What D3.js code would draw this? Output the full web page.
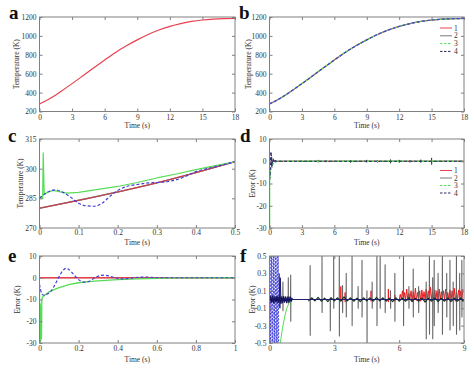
<!DOCTYPE html>
<html><head><meta charset="utf-8">
<script src="https://cdn.jsdelivr.net/npm/d3@7"></script>
<style>body{margin:0;background:#fff}svg{display:block}text{font-family:"Liberation Serif","Times New Roman",serif}</style>
</head><body><svg id="fig" width="474" height="370"></svg>
<script>
// ---------- DATA ----------
const seriesNames = ["1","2","3","4"];
// panel a/b: temperature trajectory (K) vs time (s)
const aTime = [0,1,2,3,4,5,6,7,8,9,10,11,12,13,14,15,16,17,18];
const aTemp = [280,340,415,495,578,662,745,825,895,958,1015,1062,1100,1130,1153,1168,1177,1182,1184];
// panel c: zoom 0-0.5 s
const cRedT = [0,0.1,0.2,0.3,0.4,0.5];
const cRed  = [280,284,288.2,292.8,298,303.5];
const cGreenT = [0,0.004,0.008,0.0095,0.0105,0.012,0.02,0.035,0.05,0.07,0.1,0.15,0.2,0.25,0.3,0.35,0.4,0.45,0.5];
const cGreen  = [284.5,286,284.8,308,300,287,288,289,288.4,287.6,288,289.5,291,293,295.3,297.3,299.5,301.5,303.5];
const cBlueT = [0,0.02,0.04,0.06,0.08,0.10,0.12,0.14,0.16,0.18,0.20,0.22,0.25,0.28,0.30,0.33,0.36,0.40,0.45,0.50];
const cBlue  = [285,288,289.3,288,285.5,282.5,281.2,281,282.5,286,289,290.8,292,292.8,293,293.5,295,298.5,301,303.5];
// panel d/e: errors (K)
const eGreenT = [0,0.002,0.004,0.006,0.008,0.010,0.012,0.015,0.02,0.035,0.05,0.075,0.1,0.15,0.2,0.25,0.3,0.4,0.5,0.6,0.7,0.8,1.0];
const eGreen  = [-5,-30,-12,-29,-14,-28,-10,-9,-8.5,-7.5,-6.5,-5.5,-4.5,-3.2,-2.3,-1.8,-1.4,-0.9,-0.5,-0.25,-0.1,-0.05,0];
const eBlueT = [0,0.01,0.02,0.04,0.06,0.08,0.10,0.12,0.135,0.15,0.17,0.19,0.21,0.23,0.25,0.28,0.31,0.33,0.36,0.39,0.42,0.46,0.5,0.55,0.6,0.7,1.0];
const eBlue  = [-3,-7,-8,-7.5,-6,-3,0.5,3.3,4.3,3.8,2,0,-1.5,-2,-1.8,-0.2,1,1.2,0.7,-0.1,-0.5,-0.3,0.2,0.3,0,0,0];
// panel d: small spikes of series 2 [time, high, low]
const dSpikes = [[0.2,2,-3],[4.5,0.6,-0.5],[5.2,0.5,-0.4],[7.5,0.5,-0.6],[9.0,0.6,-0.5],[10.0,0.4,-0.5],[11.2,0.8,-0.9],[12.0,0.6,-0.6],[13.0,0.5,-0.5],[14.0,0.7,-0.6],[15.0,1.5,-1.5]];
// panel f: fine error detail
const fBlueHatchT = [0,0.05,0.10,0.15,0.20,0.25,0.30,0.35,0.40,0.43];
const fBlueHatchV = [0.65,-0.65,0.65,-0.65,0.65,-0.65,0.65,-0.65,0.65,-0.65];
const fBlueHatch2T = [0.02,0.07,0.12,0.17,0.22,0.27,0.32,0.37,0.42];
const fBlueHatch2V = [-0.65,0.65,-0.65,0.65,-0.65,0.65,-0.65,0.65,-0.65];
const fBlueTailT = [0.45,0.48,0.50,0.53,0.56,0.60,9];
const fBlueTailV = [0.3,-0.1,0.25,-0.05,0.02,0,0];
const fNavyBand = [[0,-0.035,0.035],[0.1,-0.03,0.04],[0.2,-0.04,0.03],[0.3,-0.03,0.035],[0.4,-0.035,0.04],[0.5,-0.03,0.03],[0.6,-0.035,0.035],[0.7,-0.03,0.03],[0.8,-0.035,0.03],[0.9,-0.03,0.03],[1.0,-0.02,0.02]];
const fDarkBand = [[1.8,-0.02,0.02],[2.1,-0.015,0.025],[2.4,-0.02,0.015],[2.7,-0.025,0.02],[3.0,-0.015,0.02],[3.3,-0.02,0.03],[3.6,-0.015,0.02],[3.9,-0.02,0.015],[4.2,-0.025,0.02],[4.5,-0.015,0.02],[4.8,-0.02,0.025],[5.1,-0.015,0.02],[5.4,-0.02,0.015],[5.7,-0.025,0.02],[6.0,-0.02,0.015],[6.3,-0.02,0.02],[6.6,-0.025,0.015],[6.9,-0.02,0.02],[7.2,-0.03,0.015],[7.5,-0.02,0.02],[7.8,-0.025,0.015],[8.1,-0.02,0.02],[8.4,-0.025,0.015],[8.7,-0.02,0.02],[8.95,-0.02,0.015]];
const fGreenT = [0,0.45,0.5,0.6,0.7,0.8,0.9,1.0,1.1,9];
const fGreenV = [-5,-0.6,-0.5,-0.33,-0.2,-0.1,-0.04,-0.01,0,0];
const fSpikes = [[0.62,0.2,-0.13],[0.87,0.25,-0.05],[0.98,0.28,-0.25],
 [1.88,0.39,-0.41],[2.43,0.5,-0.15],[2.81,0.02,-0.36],[2.97,0.5,-0.1],
 [3.23,0.5,-0.42],[3.38,0.16,-0.15],[3.55,0.3,-0.2],[3.82,0.5,-0.3],
 [4.1,0.15,-0.1],[4.28,0.45,-0.2],[4.51,0.1,-0.5],[4.75,0.2,-0.1],
 [4.97,0.5,-0.3],[5.12,0.5,-0.1],[5.35,0.4,-0.15],[5.6,0.1,-0.1],[5.8,0.3,-0.25],
 [6.2,0.5,-0.3],[6.45,0.15,-0.1],[6.65,0.35,-0.2],[6.9,0.15,-0.15],
 [7.25,0.2,-0.45],[7.4,0.5,-0.4],[7.55,0.25,-0.45],[7.62,0.45,-0.3],[7.8,0.3,-0.15],
 [8.0,0.5,-0.4],[8.2,0.3,-0.2],[8.35,0.45,-0.35],[8.5,0.2,-0.3],[8.65,0.5,-0.4],[8.8,0.3,-0.35],[8.9,0.45,-0.2]];
const fRedStart = [[0,-0.6],[0.01,-0.2],[0.02,0],[1.5,0]];
const fRedSpikes = [[3.3,0.15,-0.02],[3.5,0.08,-0.03],[4.7,0.1,-0.02],[5.5,0.12,-0.03],[5.8,0.05,-0.02]];
const fRedBand = [[6.0,-0.01,0.06],[6.1,0.0,0.1],[6.2,-0.02,0.08],[6.3,0.0,0.12],[6.4,-0.01,0.07],[6.5,0.01,0.1],[6.6,-0.02,0.09],[6.7,0.0,0.13],[6.8,-0.01,0.08],[6.9,0.0,0.1],
 [7.0,-0.02,0.11],[7.1,0.0,0.09],[7.2,-0.01,0.12],[7.3,0.01,0.1],[7.4,-0.02,0.14],[7.5,0.0,0.09],[7.6,-0.01,0.11],[7.7,0.0,0.1],[7.8,-0.02,0.12],[7.9,0.0,0.09],
 [8.0,-0.01,0.1],[8.1,0.0,0.12],[8.2,-0.02,0.08],[8.3,0.0,0.11],[8.4,-0.01,0.1],[8.5,0.0,0.13],[8.6,-0.02,0.09],[8.7,0.0,0.11],[8.8,-0.01,0.1],[8.9,0.0,0.12]];
// tick labels
const ticksA_x = [0,3,6,9,12,15,18], ticksA_y = [200,400,600,800,1000,1200];
const ticksC_x = [0,0.1,0.2,0.3,0.4,0.5], ticksC_y = [270,285,300,315];
const ticksD_x = [0,3,6,9,12,15,18], ticksD_y = [-30,-20,-10,0,10];
const ticksE_x = [0,0.2,0.4,0.6,0.8,1], ticksE_y = [-30,-20,-10,0,10];
const ticksF_x = [0,3,6,9], ticksF_y = [-0.5,-0.3,-0.1,0.1,0.3,0.5];

// ---------- STYLES ----------
const sty = {
  "1": {c:"#e8404f", w:1.2, d:null},
  "2": {c:"#7a7a7a", w:1.0, d:null},
  "3": {c:"#55dd55", w:1.2, d:"3,1.2"},
  "4": {c:"#4040d8", w:1.2, d:"3,2"}
};
const svg = d3.select("#fig");
const FF = '"Liberation Serif","Times New Roman",serif';
const zip = (t,v) => t.map((d,i)=>[d,v[i]]);
function spikePts(list){const p=[];list.forEach(([t,h,l])=>{p.push([t-0.004,0],[t,h],[t+0.004,l],[t+0.008,0]);});return p;}
function bandPts(list,dt){const p=[];list.forEach(([t,l,h])=>{p.push([t,l],[t+dt,h]);});return p;}
let clipId=0;
function panel(o){
  const x = d3.scaleLinear().domain(o.xd).range([o.x0,o.x1]);
  const y = d3.scaleLinear().domain(o.yd).range([o.y1,o.y0]);
  const g = svg.append("g");
  const id = "clip"+(clipId++);
  svg.append("clipPath").attr("id",id).append("rect").attr("x",o.x0).attr("y",o.y0).attr("width",o.x1-o.x0).attr("height",o.y1-o.y0);
  const plot = g.append("g").attr("clip-path",`url(#${id})`);
  const line = d3.line().x(d=>x(d[0])).y(d=>y(d[1]));
  const draw = (pts,s,opt={}) => {
    const st = sty[s];
    plot.append("path").attr("d",line.curve(opt.curve||d3.curveLinear)(pts)).attr("fill","none")
      .attr("stroke",opt.c||st.c).attr("stroke-width",opt.w||st.w)
      .attr("stroke-dasharray",opt.d===undefined?st.d:opt.d).attr("stroke-linejoin","round");
  };
  const fmt = d=>String(d);
  const styleAx = sel => {sel.attr("font-family",FF).attr("font-size",7.5);
    sel.select(".domain").remove(); sel.selectAll(".tick line").attr("stroke","#808080");
    sel.selectAll(".tick text").attr("fill","#333");};
  g.append("g").attr("transform",`translate(0,${o.y1})`).call(d3.axisBottom(x).tickValues(o.xt).tickSize(-3).tickPadding(o.tp||3).tickFormat(fmt)).call(styleAx);
  g.append("g").attr("transform",`translate(0,${o.y0})`).call(d3.axisTop(x).tickValues(o.xt).tickSize(-3).tickFormat("")).call(styleAx);
  g.append("g").attr("transform",`translate(${o.x0},0)`).call(d3.axisLeft(y).tickValues(o.yt).tickSize(-3).tickPadding(3).tickFormat(fmt)).call(styleAx);
  g.append("g").attr("transform",`translate(${o.x1},0)`).call(d3.axisRight(y).tickValues(o.yt).tickSize(-3).tickFormat("")).call(styleAx);
  g.append("rect").attr("x",o.x0).attr("y",o.y0).attr("width",o.x1-o.x0).attr("height",o.y1-o.y0)
    .attr("fill","none").attr("stroke","#808080").attr("stroke-width",1);
  g.append("text").attr("x",(o.x0+o.x1)/2).attr("y",o.tb).attr("text-anchor","middle").attr("font-size",7.5).attr("fill","#333").text("Time (s)");
  g.append("text").attr("transform",`translate(${o.yl},${(o.y0+o.y1)/2}) rotate(-90)`).attr("text-anchor","middle")
    .attr("dominant-baseline","central").attr("font-size",7.5).attr("fill","#333").text(o.ytitle);
  g.append("text").attr("x",o.lx).attr("y",o.ly).attr("font-size",19).attr("font-weight","bold").attr("fill","#111").text(o.letter);
  return {x,y,g,draw};
}
function legend(p,xl,ys){
  seriesNames.forEach((s,i)=>{
    const st=sty[s];
    p.g.append("line").attr("x1",xl).attr("x2",xl+12).attr("y1",ys[i]).attr("y2",ys[i])
      .attr("stroke",s==="4"?"#2a2a60":st.c).attr("stroke-width",1).attr("stroke-dasharray",st.d?"2.5,1.5":null);
    p.g.append("text").attr("x",xl+14).attr("y",ys[i]).attr("dominant-baseline","central").attr("font-size",7.5).attr("fill","#333").text(s);
  });
}
const L={x0:39.5,x1:235}, R={x0:269.5,x1:464};
const rows=[[17,111.5,127.5],[139,228,245],[256,343,361.5]];

// a
const pa = panel({...L,y0:rows[0][0],y1:rows[0][1],tb:rows[0][2],xd:[0,18],yd:[200,1200],xt:ticksA_x,yt:ticksA_y,ytitle:"Temperature (K)",yl:16,letter:"a",lx:9,ly:18.5});
pa.draw(zip(aTime,aTemp),"1",{curve:d3.curveMonotoneX});
// b
const pb = panel({...R,y0:rows[0][0],y1:rows[0][1],tb:rows[0][2],xd:[0,18],yd:[200,1200],xt:ticksA_x,yt:ticksA_y,ytitle:"Temperature (K)",yl:248,letter:"b",lx:239,ly:18.5});
seriesNames.forEach(s=>pb.draw(zip(aTime,aTemp),s,{curve:d3.curveMonotoneX}));
legend(pb,440,[28,35.8,43.6,51.4]);
// c
const pc = panel({...L,y0:rows[1][0],y1:rows[1][1],tb:rows[1][2],tp:2,xd:[0,0.5],yd:[270,315],xt:ticksC_x,yt:ticksC_y,ytitle:"Temperature (K)",yl:20,letter:"c",lx:8,ly:142});
pc.draw(zip(cRedT,cRed),"2",{curve:d3.curveMonotoneX,w:1.4});
pc.draw(zip(cRedT,cRed),"1",{curve:d3.curveMonotoneX,c:"#c8404c"});
pc.draw(zip(cGreenT,cGreen),"3",{d:null});
pc.draw(zip(cBlueT,cBlue),"4",{curve:d3.curveMonotoneX});
// d
const pd = panel({...R,y0:rows[1][0],y1:rows[1][1],tb:rows[1][2],tp:2,xd:[0,18],yd:[-30,10],xt:ticksD_x,yt:ticksD_y,ytitle:"Error (K)",yl:252,letter:"d",lx:240,ly:142});
pd.draw([[0,0],[18,0]],"1");
pd.draw(spikePts(dSpikes).concat([[18,0]]),"2",{c:"#333",w:0.8});
pd.draw(zip(eGreenT,eGreen).concat([[18,0]]),"3",{w:1.3});
pd.draw(zip(eBlueT,eBlue).concat([[18,0]]),"4",{c:"#2a2a70"});
legend(pd,440,[170.5,178,185.5,193]);
// e
const pe = panel({...L,y0:rows[2][0],y1:rows[2][1],tb:rows[2][2],xd:[0,1],yd:[-30,10],xt:ticksE_x,yt:ticksE_y,ytitle:"Error (K)",yl:17,letter:"e",lx:8,ly:262});
pe.draw([[0,0],[1,0]],"2");
pe.draw([[0,0],[1,0]],"1",{w:1.4});
pe.draw(zip(eGreenT,eGreen),"3",{d:null,w:1.3});
pe.draw(zip(eBlueT,eBlue),"4",{curve:d3.curveMonotoneX});
// f
const pf = panel({...R,y0:rows[2][0],y1:rows[2][1],tb:rows[2][2],xd:[0,9],yd:[-0.5,0.5],xt:ticksF_x,yt:ticksF_y,ytitle:"Error (K)",yl:252,letter:"f",lx:240,ly:262});
pf.draw(fRedStart.concat(spikePts(fRedSpikes)).concat([[6,0]]).concat(bandPts(fRedBand,0.05)),"1",{c:"#ee1c1c",w:1});
pf.draw(spikePts(fSpikes),"2",{c:"#666",w:1.1});
pf.draw(zip(fGreenT,fGreenV),"3",{d:null,w:1});
pf.draw(bandPts(fDarkBand,0.15),"4",{c:"#14301c",w:1.1,d:null});
pf.draw([[1,0],[1.8,0]],"4",{c:"#2b7a8a",w:0.8,d:null});
pf.draw(zip(fBlueHatchT,fBlueHatchV),"4",{w:0.9,d:"2,1.5"});
pf.draw(zip(fBlueHatch2T,fBlueHatch2V),"4",{w:0.9,d:"1.5,2"});
pf.draw(zip(fBlueTailT,fBlueTailV),"4",{c:"#1e1e70",w:1,d:null});
pf.draw(bandPts(fNavyBand,0.05),"4",{c:"#151560",w:1.4,d:null});
</script></body></html>
